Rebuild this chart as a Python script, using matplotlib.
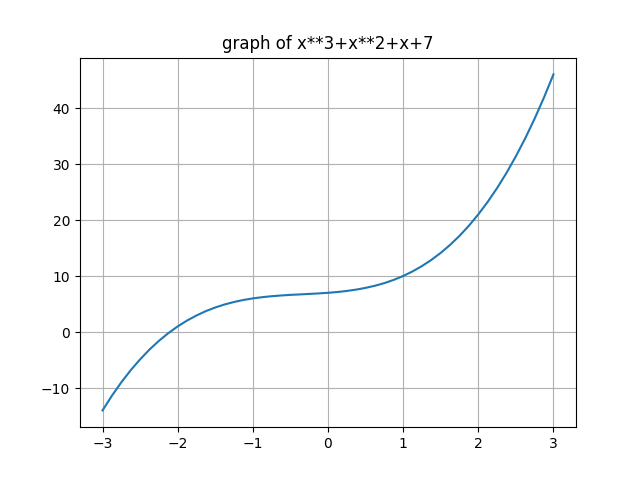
import matplotlib
matplotlib.use("Agg")
import matplotlib.pyplot as plt

# values, step 0.125
x_vals = [-3.0, -2.875, -2.75, -2.625, -2.5, -2.375, -2.25, -2.125,
          -2.0, -1.875, -1.75, -1.625, -1.5, -1.375, -1.25, -1.125,
          -1.0, -0.875, -0.75, -0.625, -0.5, -0.375, -0.25, -0.125,
          0.0, 0.125, 0.25, 0.375, 0.5, 0.625, 0.75, 0.875,
          1.0, 1.125, 1.25, 1.375, 1.5, 1.625, 1.75, 1.875,
          2.0, 2.125, 2.25, 2.375, 2.5, 2.625, 2.75, 2.875, 3.0]
y_vals = [-14.0, -11.37, -8.98, -6.82, -4.88, -3.13, -1.58, -0.21,
          1.0, 2.05, 2.95, 3.73, 4.38, 4.92, 5.36, 5.72,
          6.0, 6.22, 6.39, 6.52, 6.63, 6.71, 6.80, 6.89,
          7.0, 7.14, 7.33, 7.57, 7.88, 8.26, 8.73, 9.31,
          10.0, 10.82, 11.77, 12.87, 14.13, 15.56, 17.17, 18.98,
          21.0, 23.24, 25.70, 28.41, 31.38, 34.60, 38.11, 41.91, 46.0]

fig, ax = plt.subplots(figsize=(6.4, 4.8), dpi=100)
ax.plot(x_vals, y_vals)
ax.set_title("graph of x**3+x**2+x+7")
ax.grid(True)
fig.savefig("out.png")
